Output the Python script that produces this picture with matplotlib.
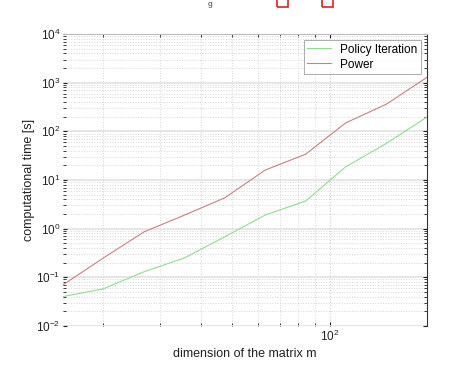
# Computational time versus matrix dimension (log-log)

from matplotlib import pyplot as plt
from matplotlib.patches import Rectangle
from matplotlib.ticker import NullFormatter

plt.rcParams['font.family'] = ['Liberation Sans', 'DejaVu Sans']

# data
m = [15, 20, 26.7, 35.6, 47.4, 63.2, 84.3, 112, 150, 200]
t_policy = [0.040, 0.058, 0.13, 0.25, 0.68, 1.9, 3.7, 18.6, 57, 198]
t_power = [0.070, 0.25, 0.86, 1.9, 4.3, 16, 34, 149, 365, 1300]

fig = plt.figure(figsize=(4.74, 3.67), dpi=100)
ax = fig.add_axes([0.133, 0.112, 0.768, 0.795])

ax.plot(m, t_policy, color='#8ede8e', linewidth=0.8, label='Policy Iteration')
ax.plot(m, t_power, color='#c98080', linewidth=0.8, label='Power')

ax.set_xscale('log')
ax.set_yscale('log')
ax.set_xticks([100])
ax.set_xlim(15, 200)
ax.set_ylim(1e-2, 1e4)
ax.xaxis.set_minor_formatter(NullFormatter())
ax.yaxis.set_minor_formatter(NullFormatter())

# grid like matlab (major + minor, dotted)
ax.grid(True, which='major', axis='y', color='#e2e2e2', linestyle='-', linewidth=1.2)
ax.grid(True, which='major', axis='x', color='#cfcfcf', linestyle=':', linewidth=0.8)
ax.grid(True, which='minor', color='#d6d6d6', linestyle=':', linewidth=0.7)
ax.set_axisbelow(True)

ax.tick_params(which='both', direction='in', top=True, right=True,
               labelsize=8.5, colors='#222222')
ax.tick_params(which='major', length=3, pad=2)
ax.tick_params(which='minor', length=2)

ax.spines['top'].set_color('#bbbbbb')
for s in ['left', 'bottom']:
    ax.spines[s].set_visible(False)
ax.spines['right'].set_color('#333333')
ax.spines['right'].set_linewidth(0.8)

ax.set_xlabel('dimension of the matrix m', fontsize=9, color='#222222', labelpad=3)
ax.set_ylabel('computational time [s]', fontsize=9, color='#222222', labelpad=1)

leg = ax.legend(loc='upper right', fontsize=8.5, frameon=True, fancybox=False,
                handlelength=2.0, borderpad=0.3, labelspacing=0.25,
                borderaxespad=0.5)
leg.get_frame().set_edgecolor('#888888')
leg.get_frame().set_linewidth(0.6)

# bits of the page above the figure
fig.text(0.443, 0.998, 'g', fontsize=6, color='#444444', ha='center', va='top')
fig.patches.append(Rectangle((277/474, 1 - 7/367), 11/474, 9/367, transform=fig.transFigure,
                             fill=False, edgecolor='#dd2222', linewidth=1.2))
fig.patches.append(Rectangle((322/474, 1 - 7/367), 11/474, 9/367, transform=fig.transFigure,
                             fill=False, edgecolor='#dd2222', linewidth=1.2))

plt.savefig('out.png', dpi=100)
